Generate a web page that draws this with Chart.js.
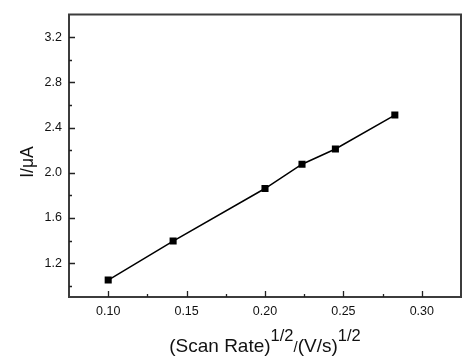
<!DOCTYPE html>
<html><head><meta charset="utf-8">
<script src="https://cdn.jsdelivr.net/npm/chart.js@4"></script>
<style>html,body{margin:0;padding:0;background:#fff}canvas{display:block}</style>
</head><body>
<canvas id="c" width="474" height="357"></canvas>
<script>
const scanRateSqrt = [0.1, 0.1414, 0.2, 0.2236, 0.2449, 0.2828];
const currentUA = [1.05, 1.395, 1.86, 2.075, 2.21, 2.51];
const xMajorTicks = [0.10, 0.15, 0.20, 0.25, 0.30];
const xMinorTicks = [0.125, 0.175, 0.225, 0.275];
const yMajorTicks = [1.2, 1.6, 2.0, 2.4, 2.8, 3.2];
const yMinorTicks = [1.0, 1.4, 1.8, 2.2, 2.6, 3.0];
const xRange = [0.075, 0.325];
const yRange = [0.9, 3.4];
const yTitle = 'I/\u03bcA';
const xTitleParts = [['(Scan Rate)', false], ['1/2', true], ['/', 'slash'], ['(V/s)', false], ['1/2', true]];

const FONT = '"Liberation Sans", Arial, sans-serif';
const points = scanRateSqrt.map((x, i) => ({x: x, y: currentUA[i]}));

const framePlugin = {
  id: 'frame',
  afterDraw(chart) {
    const ctx = chart.ctx, a = chart.chartArea;
    const xs = chart.scales.x, ys = chart.scales.y;
    ctx.save();
    ctx.strokeStyle = '#3c3c3c';
    ctx.lineWidth = 2;
    ctx.strokeRect(a.left, a.top, a.right - a.left, a.bottom - a.top);
    ctx.strokeStyle = '#222';
    ctx.lineWidth = 1.3;
    ctx.beginPath();
    const tick = (vals, len) => {
      vals.forEach(v => {
        const px = Math.round(xs.getPixelForValue(v)) + 0.5;
        ctx.moveTo(px, a.bottom); ctx.lineTo(px, a.bottom - len);
      });
    };
    const tickY = (vals, len) => {
      vals.forEach(v => {
        const py = Math.round(ys.getPixelForValue(v)) + 0.5;
        ctx.moveTo(a.left, py); ctx.lineTo(a.left + len, py);
      });
    };
    tick(xMajorTicks, 6); tick(xMinorTicks, 3);
    tickY(yMajorTicks, 6); tickY(yMinorTicks, 3);
    ctx.stroke();

    // y title
    ctx.fillStyle = '#111';
    ctx.save();
    ctx.translate(33, 162);
    ctx.rotate(-Math.PI / 2);
    ctx.font = '17.5px ' + FONT;
    ctx.textAlign = 'center';
    ctx.textBaseline = 'alphabetic';
    ctx.fillText(yTitle, 0, 0);
    ctx.restore();

    // x title with superscripts
    const fontFor = k => k === true ? '16.5px ' + FONT : (k === 'slash' ? '15px ' + FONT : '19px ' + FONT);
    let total = 0;
    const widths = xTitleParts.map(([t, k]) => { ctx.font = fontFor(k); const w = ctx.measureText(t).width; total += w; return w; });
    let x = (a.left + a.right) / 2 - total / 2;
    ctx.textAlign = 'left';
    ctx.textBaseline = 'alphabetic';
    xTitleParts.forEach(([t, k], i) => {
      ctx.font = fontFor(k);
      ctx.fillText(t, x, k === true ? 341 : 352);
      x += widths[i];
    });
    ctx.restore();
  }
};

new Chart(document.getElementById('c'), {
  type: 'scatter',
  data: {
    datasets: [{
      data: points,
      showLine: true,
      borderColor: '#000',
      backgroundColor: '#000',
      borderWidth: 1.5,
      pointStyle: 'rect',
      pointRadius: 5,
      pointHoverRadius: 5,
      pointBorderWidth: 0
    }]
  },
  options: {
    responsive: false,
    animation: false,
    devicePixelRatio: 1,
    layout: {padding: {top: 6, right: 13, left: 0, bottom: 0}},
    plugins: {legend: {display: false}, tooltip: {enabled: false}},
    scales: {
      x: {
        type: 'linear', min: xRange[0], max: xRange[1],
        grid: {display: false, drawTicks: false},
        border: {display: false},
        afterBuildTicks: s => { s.ticks = xMajorTicks.map(v => ({value: v})); },
        afterFit: s => { s.height = 60; },
        ticks: {
          padding: 7, color: '#111', maxRotation: 0,
          font: {family: FONT, size: 12.5},
          callback: v => v.toFixed(2)
        }
      },
      y: {
        type: 'linear', min: yRange[0], max: yRange[1],
        grid: {display: false, drawTicks: false},
        border: {display: false},
        afterBuildTicks: s => { s.ticks = yMajorTicks.map(v => ({value: v})); },
        afterFit: s => { s.width = 69; },
        ticks: {
          padding: 7, color: '#111',
          font: {family: FONT, size: 12.5},
          callback: v => v.toFixed(1)
        }
      }
    }
  },
  plugins: [framePlugin]
});
</script>
</body></html>
